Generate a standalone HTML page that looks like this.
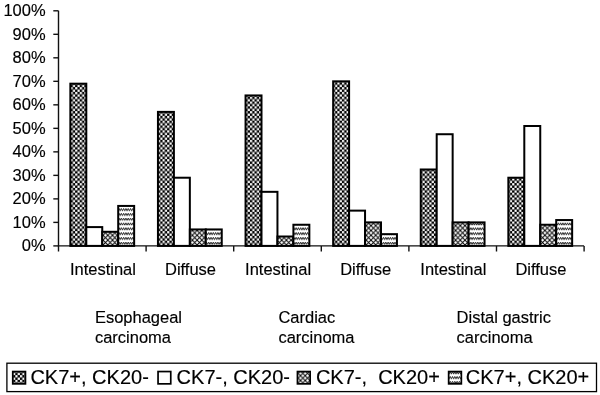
<!DOCTYPE html>
<html><head><meta charset="utf-8"><title>CK7 / CK20 chart</title>
<style>
html,body{margin:0;padding:0;background:#fff;}
body{width:600px;height:395px;overflow:hidden;}
svg{display:block;}
text{font-family:"Liberation Sans",Arial,sans-serif;fill:#000;stroke:#000;stroke-width:0.15px;}
.ax{font-size:16.5px;}
.lg{font-size:20px;}
</style></head><body>
<svg width="600" height="395" viewBox="0 0 600 395">
<defs>
<pattern id="p1" width="4.6" height="4.8" patternUnits="userSpaceOnUse" patternTransform="translate(1.52,0.7)">
<rect width="4.6" height="4.8" fill="#000"/>
<rect x="0.05" y="0.05" width="2.2" height="2.3" fill="#fff"/>
<rect x="2.35" y="2.45" width="2.2" height="2.3" fill="#fff"/>
</pattern>
<pattern id="p3" width="4.7" height="4.84" patternUnits="userSpaceOnUse" patternTransform="translate(-0.3,3)">
<rect width="4.7" height="4.84" fill="#fff"/>
<path d="M-1,-1.03L5.7,5.87M-1,5.87L5.7,-1.03" stroke="#000" stroke-width="0.95" fill="none"/>
</pattern>
<pattern id="p4" width="23.0" height="24.0" patternUnits="userSpaceOnUse" patternTransform="translate(0,1.2)">
<rect width="23.0" height="24.0" fill="#fff"/>
<path d="M-0.575,1.00L0.575,3.20L1.725,1.00L2.875,3.20L4.025,1.00L5.175,3.20L6.325,1.00L7.475,3.20L8.625,1.00L9.775,3.20L10.925,1.00L12.075,3.20L13.225,1.00L14.375,3.20L15.525,1.00L16.675,3.20L17.825,1.00L18.975,3.20L20.125,1.00L21.275,3.20L22.425,1.00L23.575,3.20M-0.575,5.80L0.575,8.00L1.725,5.80L2.875,8.00L4.025,5.80L5.175,8.00L6.325,5.80L7.475,8.00L8.625,5.80L9.775,8.00L10.925,5.80L12.075,8.00L13.225,5.80L14.375,8.00L15.525,5.80L16.675,8.00L17.825,5.80L18.975,8.00L20.125,5.80L21.275,8.00L22.425,5.80L23.575,8.00M-0.575,10.60L0.575,12.80L1.725,10.60L2.875,12.80L4.025,10.60L5.175,12.80L6.325,10.60L7.475,12.80L8.625,10.60L9.775,12.80L10.925,10.60L12.075,12.80L13.225,10.60L14.375,12.80L15.525,10.60L16.675,12.80L17.825,10.60L18.975,12.80L20.125,10.60L21.275,12.80L22.425,10.60L23.575,12.80M-0.575,15.40L0.575,17.60L1.725,15.40L2.875,17.60L4.025,15.40L5.175,17.60L6.325,15.40L7.475,17.60L8.625,15.40L9.775,17.60L10.925,15.40L12.075,17.60L13.225,15.40L14.375,17.60L15.525,15.40L16.675,17.60L17.825,15.40L18.975,17.60L20.125,15.40L21.275,17.60L22.425,15.40L23.575,17.60M-0.575,20.20L0.575,22.40L1.725,20.20L2.875,22.40L4.025,20.20L5.175,22.40L6.325,20.20L7.475,22.40L8.625,20.20L9.775,22.40L10.925,20.20L12.075,22.40L13.225,20.20L14.375,22.40L15.525,20.20L16.675,22.40L17.825,20.20L18.975,22.40L20.125,20.20L21.275,22.40L22.425,20.20L23.575,22.40" stroke="#000" stroke-width="0.9" fill="none"/>
</pattern>
</defs>
<rect width="600" height="395" fill="#fff"/>

<g stroke="#111" stroke-width="1.4" fill="none">
<path d="M58.5,10.800000000000011V245.9H584.0999999999999"/>
<path d="M53.3,245.90H58.5"/>
<path d="M53.3,222.39H58.5"/>
<path d="M53.3,198.88H58.5"/>
<path d="M53.3,175.37H58.5"/>
<path d="M53.3,151.86H58.5"/>
<path d="M53.3,128.35H58.5"/>
<path d="M53.3,104.84H58.5"/>
<path d="M53.3,81.33H58.5"/>
<path d="M53.3,57.82H58.5"/>
<path d="M53.3,34.31H58.5"/>
<path d="M53.3,10.80H58.5"/>
<path d="M58.50,245.9V251.5"/>
<path d="M146.10,245.9V251.5"/>
<path d="M233.70,245.9V251.5"/>
<path d="M321.30,245.9V251.5"/>
<path d="M408.90,245.9V251.5"/>
<path d="M496.50,245.9V251.5"/>
<path d="M584.10,245.9V251.5"/>
</g>
<text class="ax" transform="translate(45.60,251.25) scale(1.0,1.035)" text-anchor="end" xml:space="preserve">0%</text>
<text class="ax" transform="translate(45.60,227.74) scale(1.0,1.035)" text-anchor="end" xml:space="preserve">10%</text>
<text class="ax" transform="translate(45.60,204.23) scale(1.0,1.035)" text-anchor="end" xml:space="preserve">20%</text>
<text class="ax" transform="translate(45.60,180.72) scale(1.0,1.035)" text-anchor="end" xml:space="preserve">30%</text>
<text class="ax" transform="translate(45.60,157.21) scale(1.0,1.035)" text-anchor="end" xml:space="preserve">40%</text>
<text class="ax" transform="translate(45.60,133.70) scale(1.0,1.035)" text-anchor="end" xml:space="preserve">50%</text>
<text class="ax" transform="translate(45.60,110.19) scale(1.0,1.035)" text-anchor="end" xml:space="preserve">60%</text>
<text class="ax" transform="translate(45.60,86.68) scale(1.0,1.035)" text-anchor="end" xml:space="preserve">70%</text>
<text class="ax" transform="translate(45.60,63.17) scale(1.0,1.035)" text-anchor="end" xml:space="preserve">80%</text>
<text class="ax" transform="translate(45.60,39.66) scale(1.0,1.035)" text-anchor="end" xml:space="preserve">90%</text>
<text class="ax" transform="translate(45.60,16.15) scale(1.0,1.035)" text-anchor="end" xml:space="preserve">100%</text>
<g stroke="#000" stroke-width="2">
<rect x="70.35" y="83.68" width="15.95" height="162.22" fill="url(#p1)"/>
<rect x="86.30" y="227.09" width="15.95" height="18.81" fill="#fff"/>
<rect x="102.25" y="231.79" width="15.95" height="14.11" fill="url(#p3)"/>
<rect x="118.20" y="205.93" width="15.95" height="39.97" fill="url(#p4)"/>
<rect x="157.95" y="111.89" width="15.95" height="134.01" fill="url(#p1)"/>
<rect x="173.90" y="177.72" width="15.95" height="68.18" fill="#fff"/>
<rect x="189.85" y="229.44" width="15.95" height="16.46" fill="url(#p3)"/>
<rect x="205.80" y="229.44" width="15.95" height="16.46" fill="url(#p4)"/>
<rect x="245.55" y="95.44" width="15.95" height="150.46" fill="url(#p1)"/>
<rect x="261.50" y="191.83" width="15.95" height="54.07" fill="#fff"/>
<rect x="277.45" y="236.50" width="15.95" height="9.40" fill="url(#p3)"/>
<rect x="293.40" y="224.74" width="15.95" height="21.16" fill="url(#p4)"/>
<rect x="333.15" y="81.33" width="15.95" height="164.57" fill="url(#p1)"/>
<rect x="349.10" y="210.63" width="15.95" height="35.27" fill="#fff"/>
<rect x="365.05" y="222.39" width="15.95" height="23.51" fill="url(#p3)"/>
<rect x="381.00" y="234.15" width="15.95" height="11.75" fill="url(#p4)"/>
<rect x="420.75" y="169.49" width="15.95" height="76.41" fill="url(#p1)"/>
<rect x="436.70" y="134.23" width="15.95" height="111.67" fill="#fff"/>
<rect x="452.65" y="222.39" width="15.95" height="23.51" fill="url(#p3)"/>
<rect x="468.60" y="222.39" width="15.95" height="23.51" fill="url(#p4)"/>
<rect x="508.35" y="177.72" width="15.95" height="68.18" fill="url(#p1)"/>
<rect x="524.30" y="126.00" width="15.95" height="119.90" fill="#fff"/>
<rect x="540.25" y="224.74" width="15.95" height="21.16" fill="url(#p3)"/>
<rect x="556.20" y="220.04" width="15.95" height="25.86" fill="url(#p4)"/>
</g>
<text class="ax" transform="translate(102.90,275.00) scale(1.0,1.035)" text-anchor="middle" xml:space="preserve">Intestinal</text>
<text class="ax" transform="translate(190.50,275.00) scale(1.0,1.035)" text-anchor="middle" xml:space="preserve">Diffuse</text>
<text class="ax" transform="translate(278.10,275.00) scale(1.0,1.035)" text-anchor="middle" xml:space="preserve">Intestinal</text>
<text class="ax" transform="translate(365.70,275.00) scale(1.0,1.035)" text-anchor="middle" xml:space="preserve">Diffuse</text>
<text class="ax" transform="translate(453.30,275.00) scale(1.0,1.035)" text-anchor="middle" xml:space="preserve">Intestinal</text>
<text class="ax" transform="translate(540.90,275.00) scale(1.0,1.035)" text-anchor="middle" xml:space="preserve">Diffuse</text>
<text class="ax" transform="translate(94.90,322.70) scale(1.0,1.035)" xml:space="preserve">Esophageal</text>
<text class="ax" transform="translate(94.90,343.10) scale(1.0,1.035)" xml:space="preserve">carcinoma</text>
<text class="ax" transform="translate(278.40,322.70) scale(1.0,1.035)" xml:space="preserve">Cardiac</text>
<text class="ax" transform="translate(278.40,343.10) scale(1.0,1.035)" xml:space="preserve">carcinoma</text>
<text class="ax" transform="translate(456.60,322.70) scale(1.0,1.035)" xml:space="preserve">Distal gastric</text>
<text class="ax" transform="translate(456.60,343.10) scale(1.0,1.035)" xml:space="preserve">carcinoma</text>
<rect x="6.9" y="363.2" width="589.6" height="28.4" fill="#fff" stroke="#000" stroke-width="1.3"/>
<rect x="12.75" y="371.55" width="12.7" height="12.3" fill="url(#p1)" stroke="#000" stroke-width="1.7"/>
<text class="lg" transform="translate(30.40,384.40) scale(1.0,1.0)" xml:space="preserve">CK7+, CK20-</text>
<rect x="158.05" y="371.55" width="12.7" height="12.3" fill="#fff" stroke="#000" stroke-width="1.7"/>
<text class="lg" transform="translate(176.60,384.40) scale(1.0,1.0)" xml:space="preserve">CK7-, CK20-</text>
<rect x="297.45" y="371.55" width="12.7" height="12.3" fill="url(#p3)" stroke="#000" stroke-width="1.7"/>
<text class="lg" transform="translate(315.90,384.40) scale(1.0,1.0)" xml:space="preserve">CK7-,  CK20+</text>
<rect x="448.65" y="371.55" width="12.7" height="12.3" fill="url(#p4)" stroke="#000" stroke-width="1.7"/>
<text class="lg" transform="translate(465.80,384.40) scale(1.0,1.0)" xml:space="preserve">CK7+, CK20+</text>
</svg>
</body></html>
